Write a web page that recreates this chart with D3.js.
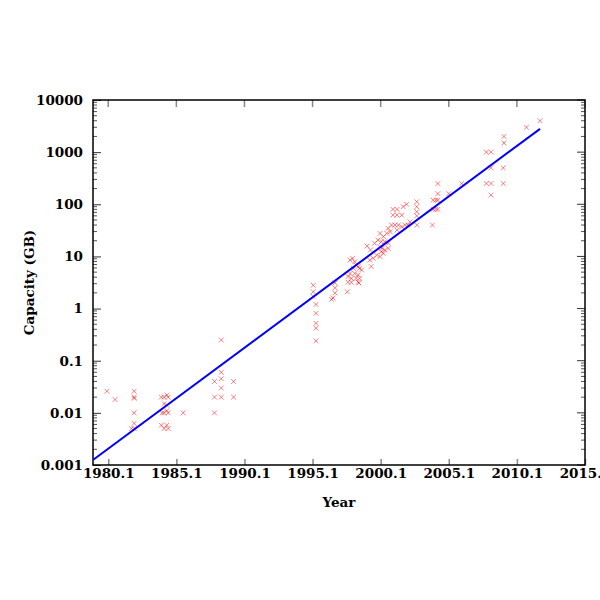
<!DOCTYPE html>
<html><head><meta charset="utf-8">
<script src="https://cdn.jsdelivr.net/npm/d3@7/dist/d3.min.js"></script>
<style>
html,body{margin:0;padding:0;background:#fff;}
text{font-family:"DejaVu Serif",serif;font-weight:bold;}
</style></head>
<body><svg id="c" width="600" height="600"></svg>
<script>
const years = [
 1980.0,1980.6,1982.0,1982.0,1982.0,1982.0,1982.0,1982.0,1981.8,
 1984.0,1984.2,1984.4,1984.5,1984.2,1984.4,1984.05,1984.2,1984.4,1984.5,1984.0,1984.4,1984.2,1984.5,
 1985.6,1987.9,1987.9,1987.9,1988.4,1988.4,1988.4,1988.4,1988.4,1989.3,1989.3,
 1995.15,1995.15,1995.15,1995.35,1995.35,1995.35,1995.35,1995.35,1996.5,1996.6,1996.75,1996.75,1996.75,1997.65,
 1997.85,1998.04,1998.2,1998.3,1998.45,1998.55,1998.7,1998.1,1997.85,1998.2,1998.45,1997.7,1997.95,1998.3,1998.55,
 1997.7,1997.95,1998.45,1998.5,1999.3,1999.55,1999.4,1999.8,2000.05,2000.3,2000.65,2000.2,1999.1,1999.35,
 2001.0,2001.3,2001.75,2002.0,2002.75,2002.75,2002.75,2001.0,2001.3,2001.65,2000.9,2001.15,2001.4,2001.65,2001.9,
 2002.25,2000.65,2000.8,2001.3,2000.05,2000.3,2000.55,1999.9,2000.15,2000.4,2000.65,1999.65,2000.05,2000.4,2000.15,
 2002.75,2002.75,2002.1,
 2004.3,2004.3,2005.1,2003.95,2004.15,2004.3,2003.95,2004.15,2004.3,2003.9,2006.05,
 2007.85,2008.2,2008.2,2009.1,2007.85,2008.2,2009.1,2008.2,2009.15,2009.15,2010.8,2011.8
];
const capacities = [
 0.026,0.018,0.026,0.020,0.019,0.010,0.0063,0.005,0.005,
 0.020,0.020,0.022,0.020,0.015,0.014,0.010,0.010,0.011,0.010,0.0058,0.0058,0.005,0.005,
 0.010,0.040,0.020,0.010,0.25,0.06,0.045,0.030,0.020,0.040,0.020,
 2.8,2.1,1.7,1.2,0.81,0.52,0.42,0.24,1.5,1.6,2.0,2.5,3.1,2.1,
 8.5,9.2,7.9,6.8,6.4,5.9,5.5,5.9,4.7,4.7,4.4,4.1,3.8,3.8,3.8,
 3.2,3.2,3.2,3.1,8.5,9.2,6.4,10.6,9.9,11.5,14.3,14.3,15.8,13.3,
 80,80,90,100,112,90,72,62,62,62,40,40,40,37,40,
 46,34.6,29.8,32,27.7,23.9,27.7,20.6,19.2,19.2,17.9,17.9,15.4,13.3,12.3,
 60,40,40,
 250,160,160,120,120,120,80,80,80,40,250,
 1000,1000,500,500,250,250,250,150,2000,1500,3000,4000
];
const trendYears = [1979.0, 2011.8];
const trendCaps = [0.00126, 2800];
const xTicks = [1980.1,1985.1,1990.1,1995.1,2000.1,2005.1,2010.1,2015.1];
const yTicks = [0.001,0.01,0.1,1,10,100,1000,10000];
const yTickLabels = ["0.001","0.01","0.1","1","10","100","1000","10000"];
const xTitle = "Year", yTitle = "Capacity (GB)";

const L=93,R=585,T=100,B=465;
const svg = d3.select("#c");
const x = d3.scaleLinear().domain([1978.98,2015.1]).range([L,R]);
const y = d3.scaleLog().domain([0.001,10000]).range([B,T]);
const fs = 13.5;

// minor y ticks
const minors = [];
for (let e=-3;e<4;e++) for (let k=2;k<10;k++) minors.push(k*Math.pow(10,e));
const g = svg.append("g");
g.selectAll(".mnl").data(minors).join("line")
 .attr("x1",L).attr("x2",L+4).attr("y1",d=>y(d)).attr("y2",d=>y(d))
 .attr("stroke","#555").attr("stroke-width",1);
g.selectAll(".mnr").data(minors).join("line")
 .attr("x1",R).attr("x2",R-4).attr("y1",d=>y(d)).attr("y2",d=>y(d))
 .attr("stroke","#555").attr("stroke-width",1);
g.selectAll(".mjr").data(yTicks).join("line")
 .attr("x1",R).attr("x2",R-8).attr("y1",d=>y(d)).attr("y2",d=>y(d))
 .attr("stroke","#333").attr("stroke-width",1);
g.selectAll(".tx").data(xTicks).join("line")
 .attr("x1",d=>x(d)).attr("x2",d=>x(d)).attr("y1",T).attr("y2",T+7)
 .attr("stroke","#888").attr("stroke-width",1.5);

const xa = svg.append("g").attr("transform",`translate(0,${B})`)
 .call(d3.axisBottom(x).tickValues(xTicks).tickFormat(d=>d.toFixed(1)).tickSize(-6).tickPadding(3));
xa.select(".domain").remove();
xa.selectAll(".tick line").attr("stroke","#888").attr("stroke-width",1.5);
xa.selectAll("text").style("font-size",fs+"px").attr("fill","#000");

const ya = svg.append("g").attr("transform",`translate(${L},0)`)
 .call(d3.axisLeft(y).tickValues(yTicks).tickFormat((d,i)=>yTickLabels[i]).tickSize(-8).tickPadding(10));
ya.select(".domain").remove();
ya.selectAll(".tick line").attr("stroke","#333").attr("stroke-width",1);
ya.selectAll("text").style("font-size",fs+"px").attr("fill","#000");

svg.append("rect").attr("x",L).attr("y",T).attr("width",R-L).attr("height",B-T)
 .attr("fill","none").attr("stroke","#000").attr("stroke-width",1.5);

const pts = years.map((yr,i)=>({yr,c:capacities[i]}));
const s=2.4;
svg.append("g").selectAll("path").data(pts).join("path")
 .attr("d",d=>{const px=x(d.yr),py=y(d.c);return `M${px-s},${py-s}L${px+s},${py+s}M${px-s},${py+s}L${px+s},${py-s}`;})
 .attr("stroke","#ff0000").attr("stroke-opacity",0.5).attr("stroke-width",1).attr("fill","none");

svg.append("line")
 .attr("x1",x(trendYears[0])).attr("y1",y(trendCaps[0]))
 .attr("x2",x(trendYears[1])).attr("y2",y(trendCaps[1]))
 .attr("stroke","#0000ff").attr("stroke-width",2);

svg.append("text").attr("x",(L+R)/2).attr("y",507).attr("text-anchor","middle")
 .style("font-size","13.5px").text(xTitle);
svg.append("text").attr("transform",`translate(34,${(T+B)/2}) rotate(-90)`).attr("text-anchor","middle")
 .style("font-size","13.5px").text(yTitle);
</script></body></html>
